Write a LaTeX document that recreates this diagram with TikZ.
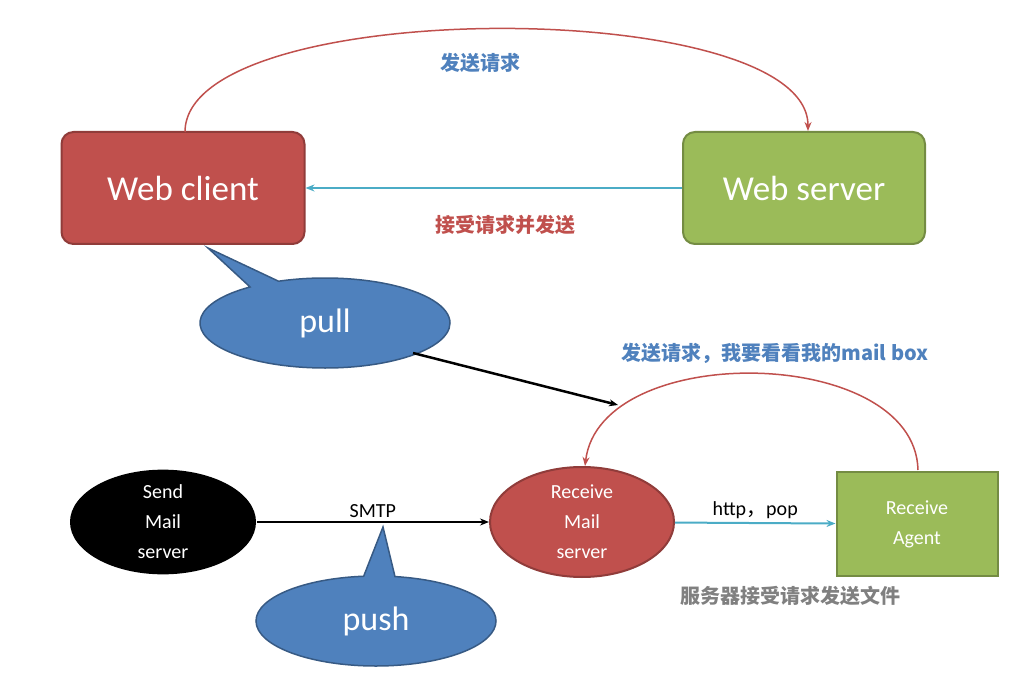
\documentclass[tikz,border=0pt]{standalone}
\usepackage{fontspec}
\setmainfont{Carlito}
\newfontfamily\cjk{Noto Sans CJK SC}
\usetikzlibrary{shapes.geometric,shapes.callouts,arrows.meta}
\definecolor{boxred}{HTML}{C0504D}
\definecolor{boxgreen}{HTML}{9BBB59}
\definecolor{callblue}{HTML}{4F81BD}
\definecolor{linecyan}{HTML}{4BACC6}
\begin{document}
\begin{tikzpicture}[x=1pt,y=-1pt,>={Stealth[length=9pt,width=7pt]},
  line width=1.5pt]
  \tikzset{box/.style={draw=#1!75!black,fill=#1,text=white,line width=2pt},
    talk/.style={ellipse callout,draw=callblue!70!black,fill=callblue,
      text=white,line width=1.5pt,font=\fontsize{34}{36}\selectfont},
    cn/.style={font=\cjk\bfseries\fontsize{20}{22}\selectfont},
    small/.style={font=\fontsize{20}{30}\selectfont}}
  \useasboundingbox (0,0) rectangle (1026,679);

  % web part
  \node[box=boxred,rounded corners=12pt,minimum width=243pt,minimum height=112pt,
    font=\fontsize{35}{38}\selectfont] (client) at (183,188) {Web client};
  \node[box=boxgreen,rounded corners=12pt,minimum width=242pt,minimum height=112pt,
    font=\fontsize{35}{38}\selectfont] (server) at (804,188) {Web server};
  \draw[->,boxred] (185,132) .. controls (185,-5) and (808,-5) .. (808,131);
  \node[cn,text=callblue] (req) at (480,63) {发送请求};
  \draw[->,linecyan,line width=2pt] (server) -- (client);
  \node[cn,text=boxred] (resp) at (505,225) {接受请求并发送};
  \coordinate (pulltip) at (208,248);
  \node[talk,minimum width=250pt,minimum height=90pt,
    callout absolute pointer={(pulltip)}] (pull) at (325,323) {pull};

  % mail part
  \coordinate (pullend) at (618,405);
  \draw[->,line width=2.5pt] (413,353) -- (pullend);
  \node[cn,text=callblue] (ask) at (775,353) {发送请求，我要看看我的mail box};
  \node[ellipse,fill=black,text=white,minimum width=186pt,minimum height=90pt,
    align=center,small,inner sep=0pt] (send) at (163,522)
    {Send\\Mail\\server};
  \node[ellipse,box=boxred,minimum width=184pt,minimum height=110pt,
    align=center,small,inner sep=0pt] (recv) at (582,522)
    {Receive\\Mail\\server};
  \node[box=boxgreen,minimum width=161pt,minimum height=104pt,
    align=center,small] (agent) at (917,524)
    {Receive\\Agent};
  \draw[->] (send) -- node[above,small] {SMTP} (recv);
  \draw[->,linecyan,line width=2pt] (recv) -- node[above,text=black,small]
    {http{\cjk ，}pop} (agent);
  \draw[->,boxred] (918,470) .. controls (915,345) and (600,340) .. (585,466);
  \node[cn,text=gray] (file) at (790,596) {服务器接受请求发送文件};
  \coordinate (pushtip) at (383,527);
  \node[talk,minimum width=240pt,minimum height=90pt,
    callout absolute pointer={(pushtip)}] (push) at (376,621) {push};
\end{tikzpicture}
\end{document}
